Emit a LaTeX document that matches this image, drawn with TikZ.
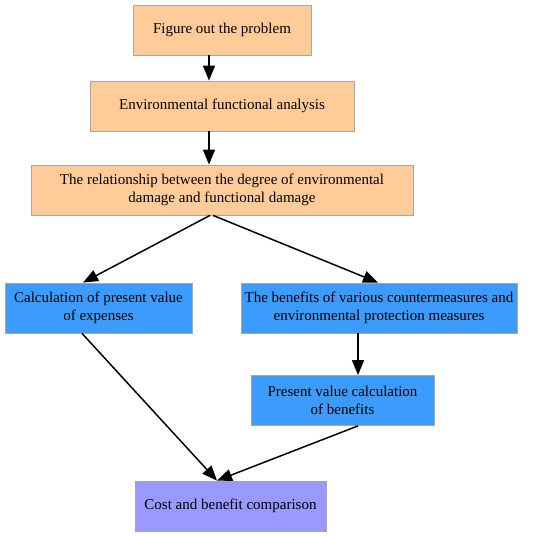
\documentclass[tikz,border=0pt]{standalone}
\usepackage{fontspec}
\setmainfont{Liberation Serif}
\usepackage{xcolor}
\usetikzlibrary{calc,arrows.meta}

\definecolor{boxorange}{RGB}{255,204,153}
\definecolor{boxblue}{RGB}{60,155,255}
\definecolor{boxpurple}{RGB}{153,153,255}

\tikzset{
  flowbox/.style={draw=gray!70, line width=0.8pt, align=center, inner sep=2pt,
    minimum height=50pt, font=\fontsize{15}{18}\selectfont},
  flowarrow/.style={line width=1.5pt, -{Triangle[length=15pt,width=12pt]}}
}

\begin{document}
\begin{tikzpicture}[x=1pt,y=1pt]

\useasboundingbox (0,0) rectangle (550,537);

% upper chain
\node[flowbox, fill=boxorange, minimum width=178pt] (prob) at (222,507) {Figure out the problem};
\node[flowbox, fill=boxorange, minimum width=264pt] (anal) at (222,431) {Environmental functional analysis};
\node[flowbox, fill=boxorange, minimum width=382pt] (rel) at (222,347) {The relationship between the degree of environmental\\damage and functional damage};

% two branches
\node[flowbox, fill=boxblue, minimum width=187pt] (expn) at (98.5,229) {Calculation of present value\\of expenses};
\node[flowbox, fill=boxblue, minimum width=276pt] (bene) at (379,229) {The benefits of various countermeasures and\\environmental protection measures};
\node[flowbox, fill=boxblue, minimum width=183pt] (pvb) at (342.5,136.5) {Present value calculation\\of benefits};

% result
\node[flowbox, fill=boxpurple, minimum width=191pt] (comp) at (230.5,31) {Cost and benefit comparison};

\draw[flowarrow] ([xshift=-13pt]prob.south) -- ([xshift=-13pt]anal.north);
\draw[flowarrow] ([xshift=-13pt]anal.south) -- ([xshift=-13pt]rel.north);
\draw[flowarrow] ([xshift=-12pt]rel.south) -- ([xshift=-15.5pt]expn.north);
\draw[flowarrow] ([xshift=-9pt]rel.south) -- ([xshift=-1pt]bene.north);
\draw[flowarrow] ([xshift=-21pt]bene.south) -- ([xshift=15.5pt]pvb.north);
\draw[flowarrow] ([xshift=-16.5pt]expn.south) -- ([xshift=-13.5pt]comp.north);
\draw[flowarrow] ([xshift=15.5pt]pvb.south) -- ([xshift=-13.5pt]comp.north);

\end{tikzpicture}
\end{document}
